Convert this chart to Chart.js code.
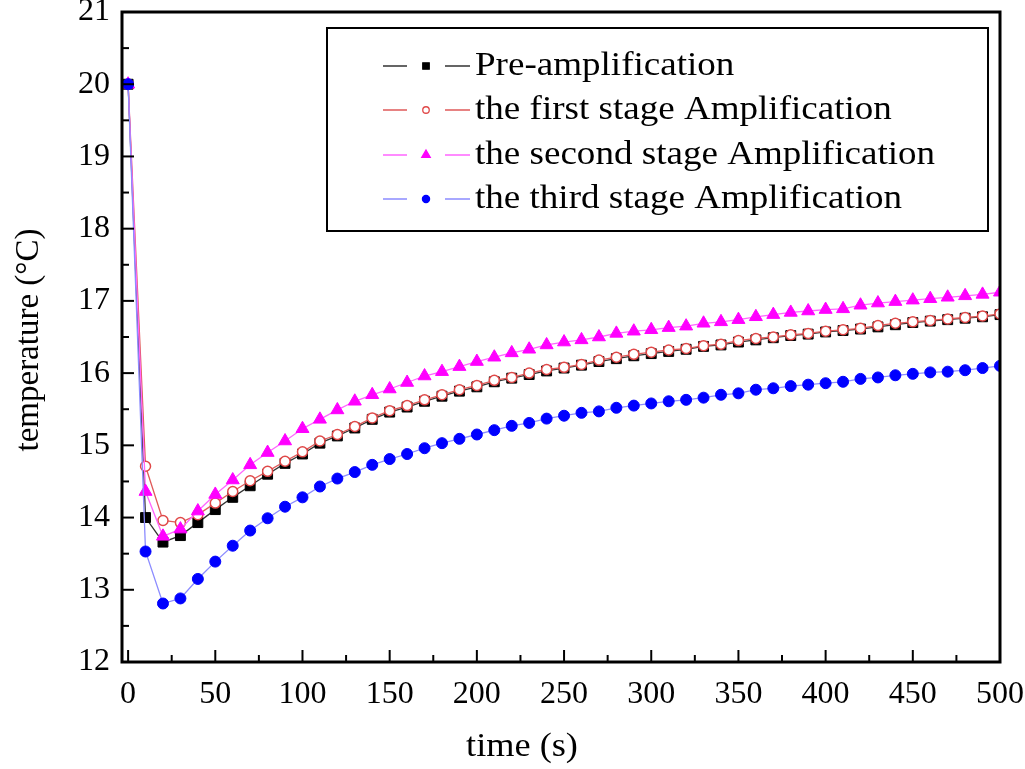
<!DOCTYPE html>
<html>
<head>
<meta charset="utf-8">
<script src="https://cdn.jsdelivr.net/npm/chart.js@4.4.1/dist/chart.umd.min.js"></script>
<style>
body{margin:0;background:#fff}
#wrap{width:1025px;height:769px}
</style>
</head>
<body>
<div id="wrap"><canvas id="myChart"></canvas></div>
<script>
// time (s)
var times=[0,10,20,30,40,50,60,70,80,90,100,110,120,130,140,150,160,170,180,190,200,
    210,220,230,240,250,260,270,280,290,300,310,320,330,340,350,360,370,380,390,400,
    410,420,430,440,450,460,470,480,490,500]

var preAmp=[20,14.00,13.66,13.75,13.93,14.11,14.28,14.44,14.60,14.75,14.88,15.03,15.13,15.24,15.36,15.46,15.53,15.61,15.68,15.75,15.81,
    15.88,15.93,15.98,16.03,16.07,16.11,16.16,16.20,16.24,16.27,16.30,16.33,16.37,16.39,16.43,16.46,16.49,16.52,16.54,16.57,
    16.59,16.61,16.64,16.67,16.70,16.72,16.74,16.76,16.78,16.81]
var firstStage=[20,14.71,13.96,13.93,14.04,14.20,14.36,14.51,14.64,14.78,14.91,15.06,15.15,15.26,15.38,15.48,15.55,15.63,15.70,15.77,15.83,
    15.90,15.94,16.00,16.05,16.08,16.12,16.18,16.22,16.26,16.29,16.32,16.34,16.38,16.40,16.45,16.48,16.50,16.53,16.55,16.58,
    16.60,16.62,16.66,16.69,16.71,16.73,16.75,16.77,16.79,16.82]
var secondStage=[20,14.36,13.74,13.84,14.09,14.32,14.52,14.73,14.90,15.06,15.23,15.36,15.49,15.61,15.70,15.78,15.87,15.96,16.02,16.09,16.16,
    16.22,16.28,16.33,16.39,16.43,16.46,16.50,16.55,16.58,16.60,16.63,16.65,16.69,16.71,16.74,16.78,16.81,16.84,16.86,16.88,
    16.89,16.94,16.97,16.99,17.01,17.03,17.05,17.07,17.09,17.12]
var thirdStage=[20,13.53,12.81,12.88,13.15,13.39,13.61,13.82,13.99,14.15,14.28,14.43,14.54,14.63,14.73,14.81,14.88,14.96,15.03,15.09,15.15,
    15.21,15.27,15.31,15.37,15.41,15.45,15.47,15.52,15.55,15.58,15.61,15.63,15.66,15.70,15.72,15.77,15.79,15.82,15.84,15.86,
    15.88,15.92,15.94,15.97,15.99,16.01,16.02,16.04,16.07,16.10]

var seriesNames=["Pre-amplification","the first stage Amplification","the second stage Amplification","the third stage Amplification"]

// tick positions (major ones get a label)
var xTicks=[0,25,50,75,100,125,150,175,200,225,250,275,300,325,350,375,400,425,450,475,500]
var xMajor=[0,50,100,150,200,250,300,350,400,450,500]
var yTicks=[12,12.5,13,13.5,14,14.5,15,15.5,16,16.5,17,17.5,18,18.5,19,19.5,20,20.5,21]
var yMajor=[12,13,14,15,16,17,18,19,20,21]

var serif="'Liberation Serif','Times New Roman',serif"

function pts(vals){
    var out=[]
    for(var i=0;i<times.length;i++){
        out.push({x:times[i],y:vals[i]})
    }
    return out
}

// frame + inward ticks + axis titles
var framePlugin={
    id:'frame',
    afterDatasetsDraw:function(chart){
        var ctx=chart.ctx,a=chart.chartArea
        var xs=chart.scales.x,ys=chart.scales.y
        ctx.save()
        ctx.strokeStyle='#000'
        ctx.lineWidth=2
        xTicks.forEach(function(v){
            var px=xs.getPixelForValue(v)
            var len=xMajor.indexOf(v)>=0?12:7
            ctx.beginPath()
            ctx.moveTo(px,a.bottom)
            ctx.lineTo(px,a.bottom-len)
            ctx.stroke()
        })
        yTicks.forEach(function(v){
            var py=ys.getPixelForValue(v)
            var len=yMajor.indexOf(v)>=0?12:7
            ctx.beginPath()
            ctx.moveTo(a.left,py)
            ctx.lineTo(a.left+len,py)
            ctx.stroke()
        })
        ctx.lineWidth=3
        ctx.strokeRect(a.left,a.top,a.right-a.left,a.bottom-a.top)

        ctx.fillStyle='#000'
        ctx.textAlign='center'
        ctx.textBaseline='middle'
        ctx.save()
        ctx.font='33px '+serif
        ctx.translate(522,747)
        ctx.scale(1.1,1)
        ctx.fillText('time (s)',0,0)
        ctx.restore()
        ctx.font='33px '+serif
        ctx.translate(29,(a.top+a.bottom)/2+3)
        ctx.rotate(-Math.PI/2)
        ctx.fillText('temperature (\u00B0C)',0,0)
        ctx.restore()
    }
}

// legend box inside the plot
var legendPlugin={
    id:'boxLegend',
    afterDraw:function(chart){
        var ctx=chart.ctx
        var bx=327,by=28,bw=661,bh=203
        ctx.save()
        ctx.fillStyle='#fff'
        ctx.fillRect(bx,by,bw,bh)
        ctx.strokeStyle='#000'
        ctx.lineWidth=2
        ctx.strokeRect(bx,by,bw,bh)
        var rows=[66,110,155,199]
        chart.data.datasets.forEach(function(ds,i){
            var y=rows[i]
            ctx.strokeStyle=ds.borderColor
            ctx.lineWidth=1.3
            ctx.beginPath()
            ctx.moveTo(383,y);ctx.lineTo(407,y)
            ctx.moveTo(445,y);ctx.lineTo(470,y)
            ctx.stroke()
            ctx.fillStyle=ds.pointBackgroundColor
            ctx.strokeStyle=ds.pointBorderColor
            Chart.helpers.drawPoint(ctx,{pointStyle:ds.pointStyle,radius:ds.pointRadius*0.65,borderWidth:ds.pointBorderWidth,rotation:0},426,y)
            ctx.save()
            ctx.fillStyle='#000'
            ctx.font='34px '+serif
            ctx.textAlign='left'
            ctx.textBaseline='middle'
            ctx.translate(475,y)
            ctx.scale(1.09,1)
            ctx.fillText(ds.label,0,0)
            ctx.restore()
        })
        ctx.restore()
    }
}

var myChart=document.getElementById('myChart').getContext('2d')
var chart=new Chart(myChart,{
    type:'line',
    data:{
        datasets:[
            {
                label:seriesNames[0],
                data:pts(preAmp),
                borderColor:'#333333',
                borderWidth:1.3,
                pointStyle:'rect',
                pointRadius:7,
                pointBackgroundColor:'#000000',
                pointBorderColor:'#000000',
                pointBorderWidth:1,
                order:4
            },
            {
                label:seriesNames[1],
                data:pts(firstStage),
                borderColor:'#e05a5a',
                borderWidth:1.3,
                pointStyle:'circle',
                pointRadius:5,
                pointBackgroundColor:'#ffffff',
                pointBorderColor:'#e04848',
                pointBorderWidth:1.5,
                order:3
            },
            {
                label:seriesNames[2],
                data:pts(secondStage),
                borderColor:'#ff66ff',
                borderWidth:1.3,
                pointStyle:'triangle',
                pointRadius:7.5,
                pointBackgroundColor:'#ff00ff',
                pointBorderColor:'#ff00ff',
                pointBorderWidth:1,
                order:2
            },
            {
                label:seriesNames[3],
                data:pts(thirdStage),
                borderColor:'#8c8cff',
                borderWidth:1.3,
                pointStyle:'circle',
                pointRadius:5.5,
                pointBackgroundColor:'#0000ff',
                pointBorderColor:'#0000ff',
                pointBorderWidth:1,
                order:1
            }
        ]
    },
    options:{
        responsive:true,
        maintainAspectRatio:false,
        animation:false,
        devicePixelRatio:1,
        layout:{padding:{top:12,right:25,left:0,bottom:0}},
        plugins:{legend:{display:false},tooltip:{enabled:false}},
        elements:{line:{tension:0}},
        scales:{
            x:{
                type:'linear',
                min:-3.5,
                max:500,
                grid:{display:false,drawTicks:false},
                border:{display:false},
                afterBuildTicks:function(s){s.ticks=xTicks.map(function(v){return {value:v}})},
                afterFit:function(s){s.height=107;s.paddingLeft=0;s.paddingRight=0},
                ticks:{
                    autoSkip:false,
                    maxRotation:0,
                    padding:13,
                    color:'#000',
                    font:{family:serif,size:32},
                    callback:function(v){return xMajor.indexOf(v)>=0?String(v):''}
                }
            },
            y:{
                min:12,
                max:21,
                grid:{display:false,drawTicks:false},
                border:{display:false},
                afterBuildTicks:function(s){s.ticks=yTicks.map(function(v){return {value:v}})},
                afterFit:function(s){s.width=122;s.paddingTop=0;s.paddingBottom=0},
                ticks:{
                    autoSkip:false,
                    padding:12,
                    color:'#000',
                    font:{family:serif,size:32},
                    callback:function(v){return yMajor.indexOf(v)>=0?String(v):''}
                }
            }
        }
    },
    plugins:[framePlugin,legendPlugin]
})
</script>
</body>
</html>
